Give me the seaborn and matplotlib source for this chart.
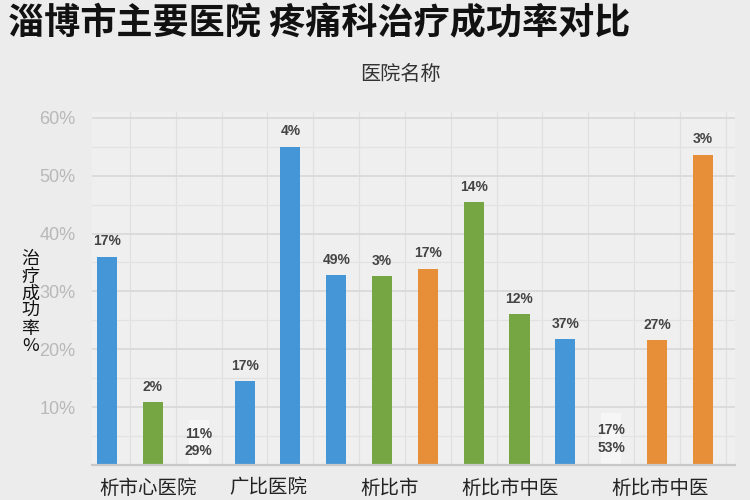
import matplotlib
matplotlib.use("Agg")
import matplotlib.pyplot as plt
import seaborn as sns
import pandas as pd
from matplotlib.ticker import MultipleLocator, FixedLocator

# ---------------- data ----------------
slots = [f"柱{i+1}" for i in range(14)]
values = [36.0, 10.9, 7.8, 14.5, 55.0, 32.8, 32.6, 33.9, 45.4, 26.1, 21.8, 9.0, 21.6, 53.6]
series = ["蓝", "绿", "白", "蓝", "蓝", "蓝", "绿", "橙", "绿", "绿", "蓝", "白", "橙", "橙"]
bar_labels = ["17%", "2%", "11%\n29%", "17%", "4%", "49%", "3%", "17%",
              "14%", "12%", "37%", "17%\n53%", "27%", "3%"]
hospitals = ["析市心医院", "广比医院", "析比市", "析比市中医", "析比市中医"]
y_ticks = [10, 20, 30, 40, 50, 60]
y_tick_labels = ["10%", "20%", "30%", "40%", "50%", "60%"]

title = "淄博市主要医院 疼痛科治疗成功率对比"
x_title = "医院名称"
y_title = "治疗成功率%"

series_colors = {"蓝": "#4596d6", "绿": "#76a643", "橙": "#e68e38", "白": "#f6f6f6"}

df = pd.DataFrame({"slot": slots, "value": values, "series": series})

# ---------------- style ----------------
sns.set_theme(style="white")
cjk = ["Noto Sans CJK SC", "DejaVu Sans"]
plt.rcParams["font.family"] = cjk

bg = "#ececec"
fig = plt.figure(figsize=(7.5, 5), dpi=100, facecolor=bg)
ax = fig.add_axes([0.1227, 0.07, 0.857, 0.706])
ax.set_facecolor("#efefef")

palette = [series_colors[s] for s in series]
sns.barplot(data=df, x="slot", y="value", hue="slot", palette=palette,
            dodge=False, legend=False, width=0.44, ax=ax, saturation=1,
            linewidth=0, edgecolor="none")

# labels
for cont, lab, s in zip(ax.containers, bar_labels, series):
    if "\n" in lab:
        txts = ax.bar_label(cont, labels=[lab], label_type="center",
                            fontsize=10, color="#444444", fontweight="bold",
                            family=["Liberation Sans", "DejaVu Sans"])
        for t in txts:
            t.set_linespacing(1.35)
    else:
        ax.bar_label(cont, labels=[lab], padding=6, fontsize=10,
                     color="#444444", fontweight="bold",
                     family=["Liberation Sans", "DejaVu Sans"])

ax.set_xlim(-0.33, 13.7)
ax.set_ylim(0, 61)

ax.set_yticks(y_ticks)
ax.set_yticklabels(y_tick_labels, fontsize=13, color="#b8b8b8",
                   family=["Liberation Sans", "DejaVu Sans"])
ax.yaxis.set_minor_locator(MultipleLocator(5))

ax.set_xticks([0.89, 3.51, 6.17, 8.79, 12.06])
ax.set_xticklabels(hospitals, fontsize=14, color="#222222")
ax.xaxis.set_minor_locator(FixedLocator([i + 0.5 for i in range(-1, 14)]))

ax.tick_params(axis="both", which="both", length=0)
ax.tick_params(axis="x", pad=9)
ax.tick_params(axis="y", pad=12)

ax.grid(True, which="major", axis="y", color="#d8d8d8", linewidth=1.2)
ax.grid(True, which="minor", axis="y", color="#e2e2e2", linewidth=0.9)
ax.grid(True, which="minor", axis="x", color="#e0e0e0", linewidth=0.9)
ax.set_axisbelow(True)

for side in ["top", "right", "left"]:
    ax.spines[side].set_visible(False)
ax.spines["bottom"].set_color("#c8c8c8")
ax.spines["bottom"].set_linewidth(1.6)

ax.set_xlabel("")
ax.set_ylabel("\n".join(list(y_title)), rotation=0, fontsize=13,
              color="#111111", linespacing=0.95, va="center", ha="center")
ax.yaxis.set_label_coords(-0.096, 0.46)

fig.text(8 / 750, 1 - 24 / 500, title, fontsize=26, fontweight="bold",
         color="#111111", ha="left", va="center")
fig.text(400 / 750, 1 - 75 / 500, x_title, fontsize=14.5, color="#333333",
         ha="center", va="center")

fig.savefig("out.png", dpi=100, facecolor=bg)
